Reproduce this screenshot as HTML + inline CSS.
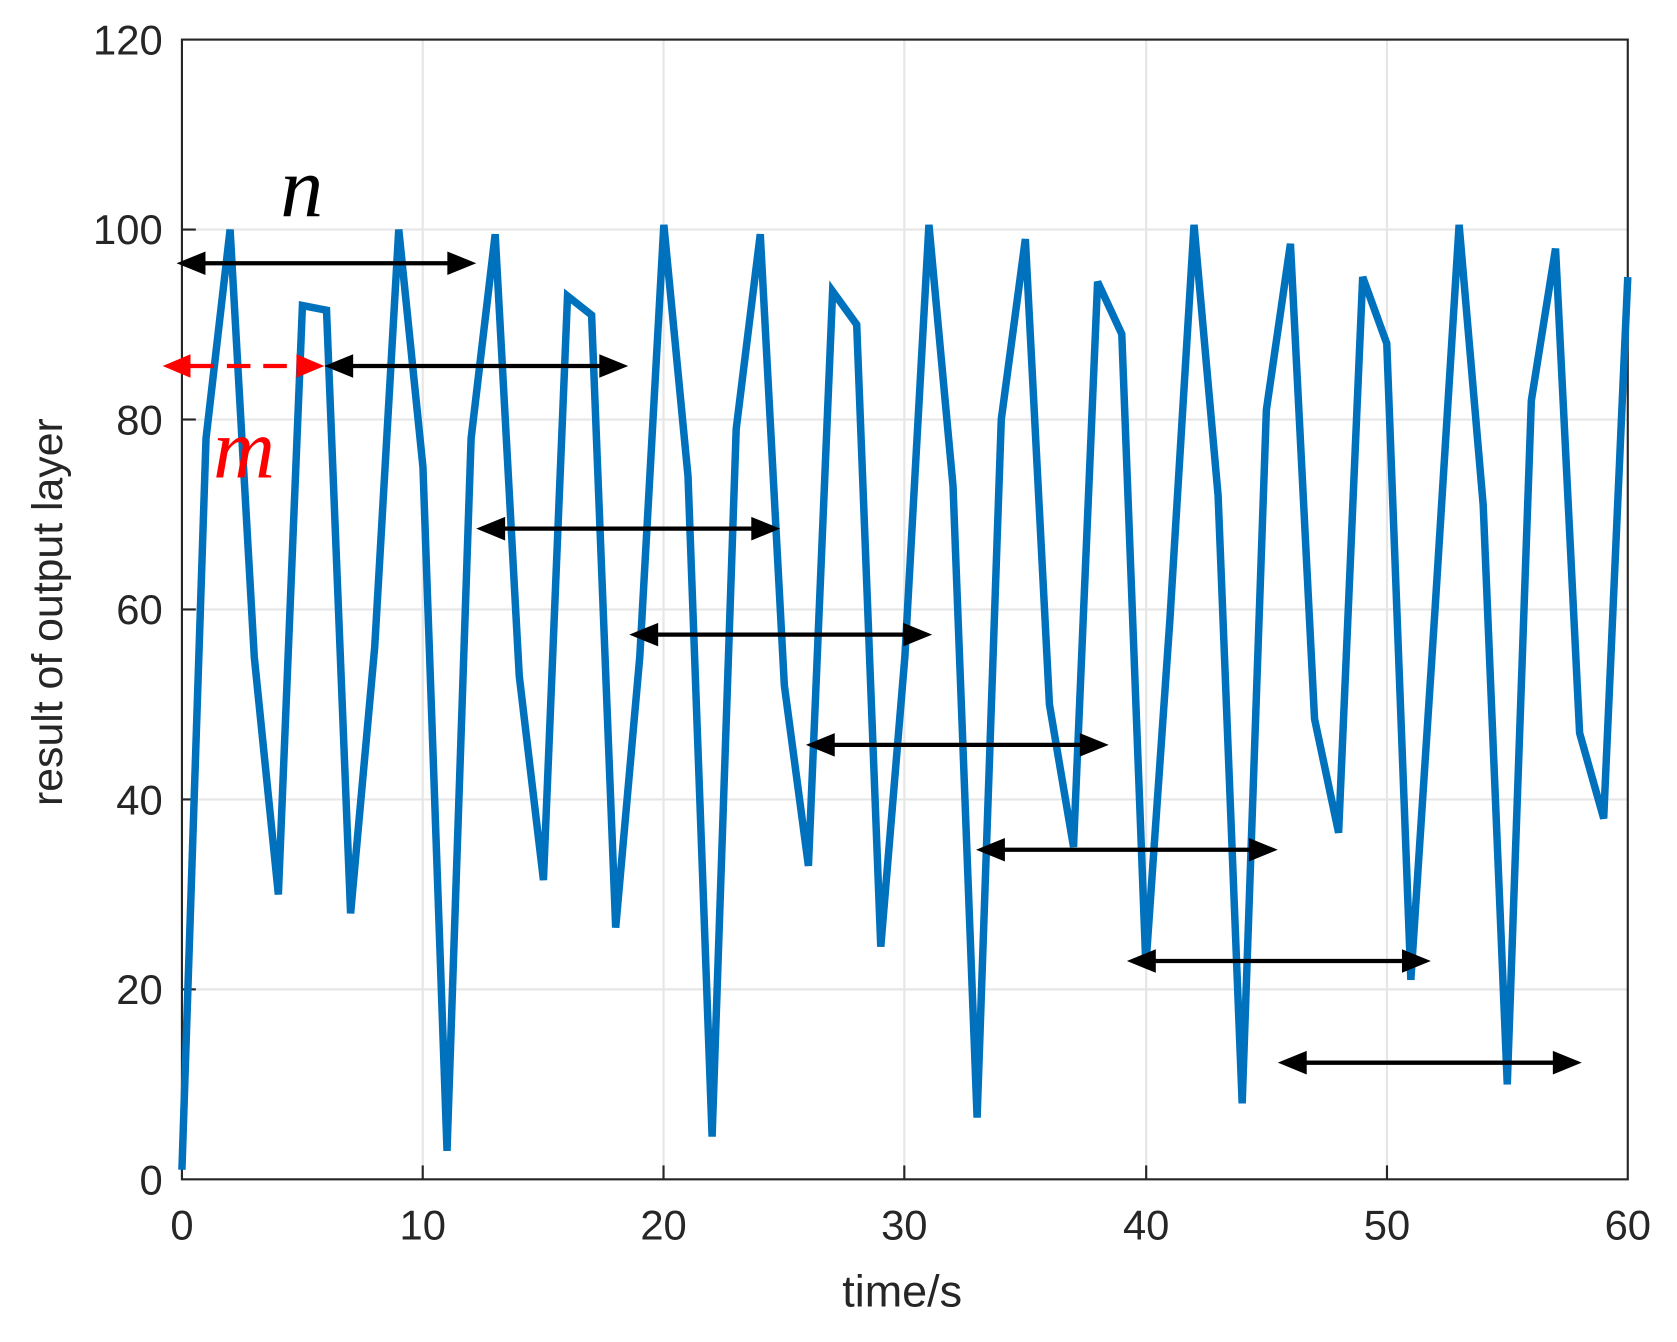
<!DOCTYPE html>
<html><head><style>body{margin:0;background:#fff}svg{display:block}</style></head><body>
<svg width="1677" height="1342" viewBox="0 0 1567 1254" preserveAspectRatio="none" xmlns="http://www.w3.org/2000/svg">
<rect width="1567" height="1254" fill="#fff"/>
<g stroke="#e6e6e6" stroke-width="2">
<line x1="395" y1="37" x2="395" y2="1102"/><line x1="620" y1="37" x2="620" y2="1102"/><line x1="845" y1="37" x2="845" y2="1102"/><line x1="1071" y1="37" x2="1071" y2="1102"/><line x1="1296" y1="37" x2="1296" y2="1102"/>
<line x1="170" y1="214.5" x2="1521" y2="214.5"/><line x1="170" y1="392" x2="1521" y2="392"/><line x1="170" y1="569.5" x2="1521" y2="569.5"/><line x1="170" y1="747" x2="1521" y2="747"/><line x1="170" y1="924.5" x2="1521" y2="924.5"/>
</g>
<rect x="170" y="37" width="1351" height="1065" fill="none" stroke="#262626" stroke-width="2"/>
<g stroke="#262626" stroke-width="2">
<line x1="395" y1="1102" x2="395" y2="1089"/><line x1="620" y1="1102" x2="620" y2="1089"/><line x1="845" y1="1102" x2="845" y2="1089"/><line x1="1071" y1="1102" x2="1071" y2="1089"/><line x1="1296" y1="1102" x2="1296" y2="1089"/>
<line x1="170" y1="214.5" x2="183" y2="214.5"/><line x1="170" y1="392" x2="183" y2="392"/><line x1="170" y1="569.5" x2="183" y2="569.5"/><line x1="170" y1="747" x2="183" y2="747"/><line x1="170" y1="924.5" x2="183" y2="924.5"/>
</g>
<g font-family="Liberation Sans, sans-serif" font-size="39" fill="#262626">
<g text-anchor="end">
<text x="152" y="1116">0</text><text x="152" y="938">20</text><text x="152" y="761">40</text><text x="152" y="583">60</text><text x="152" y="406">80</text><text x="152" y="228">100</text><text x="152" y="51">120</text>
</g>
<g text-anchor="middle">
<text x="170" y="1158">0</text><text x="395" y="1158">10</text><text x="620" y="1158">20</text><text x="845" y="1158">30</text><text x="1071" y="1158">40</text><text x="1296" y="1158">50</text><text x="1521" y="1158">60</text>
<text x="843" y="1221" font-size="42">time/s</text>
<text transform="translate(58,572) rotate(-90)" font-size="40">result of output layer</text>
</g>
</g>
<polyline id="s" fill="none" stroke="#0072BD" stroke-width="7" stroke-linejoin="miter" points=""/>
<g stroke="#000" stroke-width="4">
<line x1="180" y1="246" x2="430" y2="246"/><line x1="318" y1="342" x2="572" y2="342"/><line x1="460" y1="494" x2="714" y2="494"/><line x1="603" y1="593" x2="856" y2="593"/><line x1="768" y1="696" x2="1021" y2="696"/><line x1="927" y1="794" x2="1179" y2="794"/><line x1="1068" y1="898" x2="1322" y2="898"/><line x1="1209" y1="993" x2="1463" y2="993"/>
</g>
<g fill="#000">
<polygon points="165,246 192,235 192,257"/><polygon points="445,246 418,235 418,257"/>
<polygon points="303,342 330,331 330,353"/><polygon points="587,342 560,331 560,353"/>
<polygon points="445,494 472,483 472,505"/><polygon points="729,494 702,483 702,505"/>
<polygon points="588,593 615,582 615,604"/><polygon points="871,593 844,582 844,604"/>
<polygon points="753,696 780,685 780,707"/><polygon points="1036,696 1009,685 1009,707"/>
<polygon points="912,794 939,783 939,805"/><polygon points="1194,794 1167,783 1167,805"/>
<polygon points="1053,898 1080,887 1080,909"/><polygon points="1337,898 1310,887 1310,909"/>
<polygon points="1194,993 1221,982 1221,1004"/><polygon points="1478,993 1451,982 1451,1004"/>
</g>
<line x1="178" y1="342" x2="290" y2="342" stroke="#f00" stroke-width="4" stroke-dasharray="22,12"/>
<polygon points="152,342 178,331 178,353" fill="#f00"/><polygon points="303,342 277,331 277,353" fill="#f00"/>
<text x="282" y="202" font-family="Liberation Serif, serif" font-style="italic" font-size="80" fill="#000" text-anchor="middle">n</text>
<text x="228" y="446" font-family="Liberation Serif, serif" font-style="italic" font-size="80" fill="#f00" text-anchor="middle">m</text>
<script>
var v=[1,78,100,55,30,92,91.5,28,56,100,75,3,78,99.5,53,31.5,93,91,26.5,55,100.5,74,4.5,79,99.5,52,33,93.5,90,24.5,55,100.5,73,6.5,80,99,50,35,94.5,89,22.5,59,100.5,72,8,81,98.5,48.5,36.5,95,88,21,60,100.5,71,10,82,98,47,38,95];
document.getElementById('s').setAttribute('points',v.map(function(y,i){return (170+i*1351/60).toFixed(1)+','+(1102-y*8.875).toFixed(1)}).join(' '));
</script>
</svg>
</body></html>
